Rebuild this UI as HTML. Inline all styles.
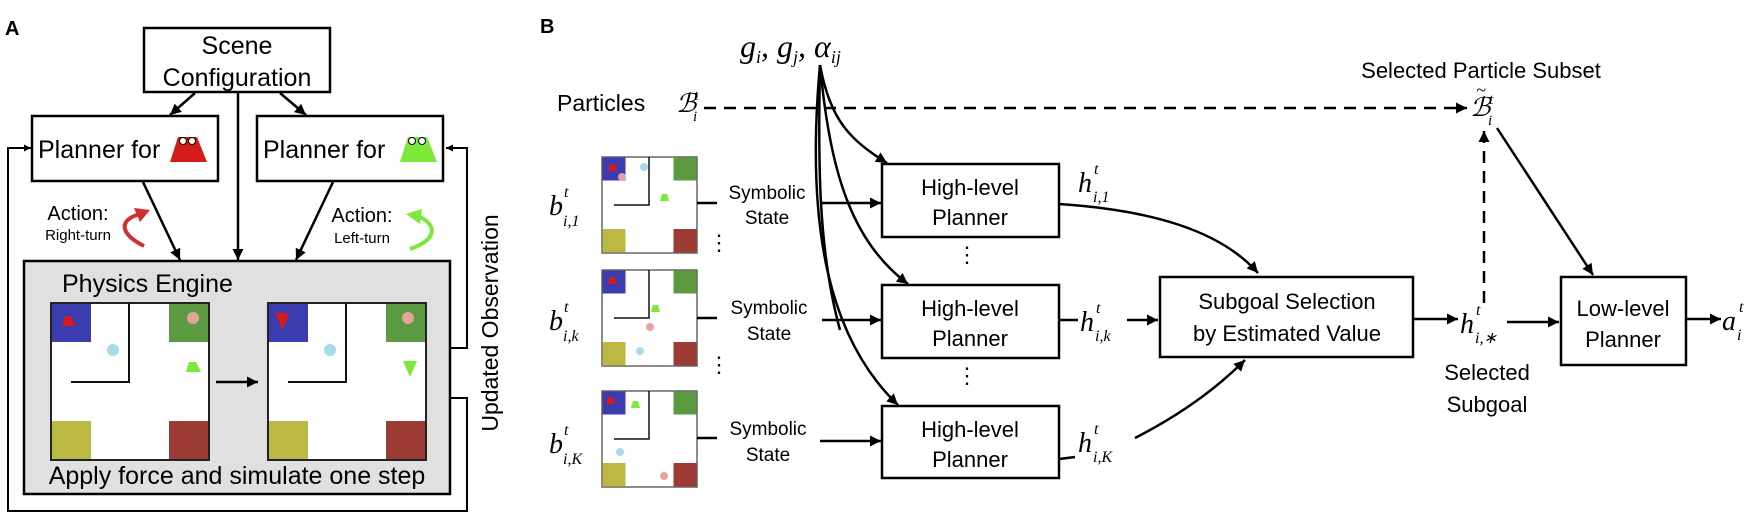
<!DOCTYPE html>
<html><head><meta charset="utf-8"><style>
html,body{margin:0;padding:0;background:#fff;}
svg{display:block;font-family:"Liberation Sans",sans-serif;}
.m{font-family:"Liberation Serif",serif;font-style:italic;}
</style></head><body>
<svg width="1752" height="519" viewBox="0 0 1752 519" xmlns="http://www.w3.org/2000/svg">
<defs>
<marker id="ah" viewBox="0 0 10 10" refX="10" refY="5" markerWidth="7" markerHeight="7" markerUnits="userSpaceOnUse" orient="auto"><path d="M0,0 L10,5 L0,10 z" fill="#000"/></marker>
<marker id="a2" viewBox="0 0 10 10" refX="10" refY="5" markerWidth="13" markerHeight="11" markerUnits="userSpaceOnUse" orient="auto"><path d="M0,0 L10,5 L0,10 z" fill="#000"/></marker>
<g id="thb">
<rect x="0" y="0" width="158" height="157" fill="#fff" stroke="#222" stroke-width="2"/>
<rect x="1" y="1" width="39" height="38" fill="#3a3cb0"/>
<rect x="118" y="1" width="39" height="38" fill="#5b9a40"/>
<rect x="1" y="118" width="39" height="38" fill="#bcb844"/>
<rect x="118" y="118" width="39" height="38" fill="#9c3b33"/>
<path d="M78,0 V79 H20" fill="none" stroke="#111" stroke-width="2"/>
</g>
<g id="ths">
<rect x="0" y="0" width="95" height="96" fill="#fff" stroke="#666" stroke-width="1.5"/>
<rect x="0.5" y="0.5" width="23" height="23" fill="#3a3cb0"/>
<rect x="71.5" y="0.5" width="23" height="23" fill="#5b9a40"/>
<rect x="0.5" y="72" width="23" height="23.5" fill="#bcb844"/>
<rect x="71.5" y="72" width="23" height="23.5" fill="#9c3b33"/>
<path d="M47,0 V48 H12" fill="none" stroke="#111" stroke-width="1.5"/>
</g>
</defs>

<!-- Panel A -->
<text x="5" y="35" font-size="20" font-weight="bold">A</text>
<rect x="144" y="28" width="186" height="64" fill="#fff" stroke="#000" stroke-width="2.5"/>
<text x="237" y="54" font-size="25" text-anchor="middle">Scene</text>
<text x="237" y="86" font-size="25" text-anchor="middle">Configuration</text>

<rect x="32" y="116" width="186" height="65" fill="#fff" stroke="#000" stroke-width="2.5"/>
<text x="38" y="158" font-size="25">Planner for</text>
<polygon points="178,137 197,137 207,162 170,162" fill="#d41a1a"/>
<circle cx="183" cy="141" r="3.5" fill="#fff" stroke="#000"/><circle cx="192" cy="141" r="3.5" fill="#fff" stroke="#000"/>
<rect x="257" y="116" width="186" height="65" fill="#fff" stroke="#000" stroke-width="2.5"/>
<text x="263" y="158" font-size="25">Planner for</text>
<polygon points="408,137 427,137 437,162 400,162" fill="#7be83a"/>
<circle cx="412" cy="141" r="3.5" fill="#fff" stroke="#000"/><circle cx="422" cy="141" r="3.5" fill="#fff" stroke="#000"/>

<g stroke="#000" stroke-width="2.5" fill="none" marker-end="url(#a2)">
<line x1="195" y1="93" x2="170" y2="115"/>
<line x1="280" y1="93" x2="306" y2="115"/>
<line x1="238" y1="93" x2="238" y2="260"/>
<line x1="143" y1="182" x2="180" y2="260"/>
<line x1="333" y1="182" x2="296" y2="260"/>
</g>
<text x="78" y="220" font-size="20" text-anchor="middle">Action:</text>
<text x="78" y="240" font-size="15" text-anchor="middle">Right-turn</text>
<path d="M144,246 C120,234 118,220 140,214" fill="none" stroke="#d03030" stroke-width="4"/>
<polygon points="150,210 134,208 140,222" fill="#d03030"/>
<text x="362" y="222" font-size="20" text-anchor="middle">Action:</text>
<text x="362" y="243" font-size="15" text-anchor="middle">Left-turn</text>
<path d="M410,249 C436,240 438,226 420,217" fill="none" stroke="#7be83a" stroke-width="4"/>
<polygon points="406,214 422,209 420,224" fill="#7be83a"/>

<rect x="24" y="261" width="426" height="233" fill="#e0e0e0" stroke="#000" stroke-width="2.5"/>
<text x="62" y="292" font-size="25">Physics Engine</text>
<use href="#thb" x="51" y="303"/>
<use href="#thb" x="268" y="303"/>
<circle cx="113" cy="350" r="6" fill="#a6dce8"/><circle cx="193" cy="318" r="6" fill="#e4a49c"/>
<polygon points="62,326 65,316 71,316 75,326" fill="#d41a1a"/>
<polygon points="186,372 189,362 196,362 201,372" fill="#7be83a"/>
<circle cx="330" cy="350" r="6" fill="#a6dce8"/><circle cx="408" cy="318" r="6" fill="#e4a49c"/>
<polygon points="275,313 289,313 283,330" fill="#d41a1a"/>
<polygon points="403,361 417,361 410,377" fill="#7be83a"/>
<line x1="216" y1="382" x2="258" y2="382" stroke="#000" stroke-width="2.5" marker-end="url(#a2)"/>
<text x="237" y="484" font-size="25" text-anchor="middle">Apply force and simulate one step</text>

<g stroke="#000" stroke-width="2" fill="none">
<polyline points="450,348 467,348 467,148 446,148" marker-end="url(#ah)"/>
<polyline points="450,398 467,398 467,511 8,511 8,148 31,148" marker-end="url(#ah)"/>
</g>
<text transform="translate(498,323) rotate(-90)" font-size="23" text-anchor="middle">Updated Observation</text>

<!-- Panel B -->
<text x="540" y="33" font-size="20" font-weight="bold">B</text>
<text x="557" y="111" font-size="23">Particles</text>
<text x="676" y="112" class="m" font-size="26">ℬ</text>
<text x="694" y="100" class="m" font-size="15">t</text>
<text x="693" y="121" class="m" font-size="15">i</text>
<line x1="704" y1="108" x2="1467" y2="108" stroke="#000" stroke-width="2.5" stroke-dasharray="12,8" marker-end="url(#a2)"/>
<text x="740" y="57" class="m" font-size="32">g<tspan font-size="18" dy="6">i</tspan><tspan dy="-6">, g</tspan><tspan font-size="18" dy="6">j</tspan><tspan dy="-6">, α</tspan><tspan font-size="18" dy="6">ij</tspan></text>

<use href="#ths" x="602" y="157"/>
<use href="#ths" x="602" y="270"/>
<use href="#ths" x="602" y="391"/>
<g>
<polygon points="608,171 610,164 615,164 617,171" fill="#d41a1a"/><circle cx="622" cy="177" r="4" fill="#e4a49c"/><circle cx="644" cy="167" r="4" fill="#a6dce8"/><polygon points="660,201 662,194 667,194 669,201" fill="#7be83a"/>
<polygon points="608,284 610,277 615,277 617,284" fill="#d41a1a"/><polygon points="651,312 653,305 658,305 660,312" fill="#7be83a"/><circle cx="650" cy="327" r="4" fill="#e4a49c"/><circle cx="640" cy="351" r="4" fill="#a6dce8"/>
<polygon points="606,404 608,397 613,397 615,404" fill="#d41a1a"/><polygon points="631,408 633,401 638,401 640,408" fill="#7be83a"/><circle cx="620" cy="452" r="4" fill="#a6dce8"/><circle cx="664" cy="476" r="4" fill="#e4a49c"/>
</g>

<g class="m" font-size="28">
<text x="549" y="215">b</text><text x="549" y="330">b</text><text x="549" y="453">b</text>
</g>
<g class="m" font-size="16">
<text x="564" y="197">t</text><text x="563" y="226">i,1</text>
<text x="564" y="312">t</text><text x="563" y="341">i,k</text>
<text x="564" y="435">t</text><text x="563" y="464">i,K</text>
</g>

<g stroke="#000" stroke-width="2.5">
<line x1="697" y1="203" x2="717" y2="203"/><line x1="697" y1="318" x2="717" y2="318"/><line x1="697" y1="438" x2="717" y2="438"/>
</g>
<g font-size="19" text-anchor="middle">
<text x="767" y="199">Symbolic</text><text x="767" y="224">State</text>
<text x="769" y="314">Symbolic</text><text x="769" y="340">State</text>
<text x="768" y="435">Symbolic</text><text x="768" y="461">State</text>
</g>
<g font-size="22" text-anchor="middle">
<text x="719" y="250">⋮</text><text x="719" y="372">⋮</text>
<text x="967" y="262">⋮</text><text x="967" y="383">⋮</text>
</g>

<g stroke="#000" stroke-width="2.5" fill="none">
<path d="M820,65 C830,120 850,140 887,163" marker-end="url(#a2)"/>
<path d="M820,65 C830,170 850,240 908,284" marker-end="url(#a2)"/>
<path d="M820,65 C805,230 830,340 898,405" marker-end="url(#a2)"/>
<path d="M820,65 C818,160 818,250 840,330"/>
<line x1="820" y1="203" x2="881" y2="203" marker-end="url(#a2)"/>
<line x1="822" y1="320" x2="881" y2="320" marker-end="url(#a2)"/>
<line x1="820" y1="441" x2="881" y2="441" marker-end="url(#a2)"/>
</g>

<g fill="#fff" stroke="#000" stroke-width="2.5">
<rect x="882" y="164" width="177" height="73"/>
<rect x="882" y="285" width="177" height="73"/>
<rect x="882" y="406" width="177" height="72"/>
<rect x="1160" y="277" width="253" height="80"/>
<rect x="1561" y="277" width="125" height="88"/>
</g>
<g font-size="22" text-anchor="middle">
<text x="970" y="195">High-level</text><text x="970" y="225">Planner</text>
<text x="970" y="316">High-level</text><text x="970" y="346">Planner</text>
<text x="970" y="437">High-level</text><text x="970" y="467">Planner</text>
<text x="1287" y="309">Subgoal Selection</text><text x="1287" y="341">by Estimated Value</text>
<text x="1623" y="316">Low-level</text><text x="1623" y="347">Planner</text>
<text x="1481" y="78">Selected Particle Subset</text>
<text x="1487" y="380">Selected</text><text x="1487" y="412">Subgoal</text>
</g>

<g class="m">
<text x="1078" y="192" font-size="28">h</text><text x="1094" y="174" font-size="16">t</text><text x="1093" y="202" font-size="16">i,1</text>
<text x="1080" y="331" font-size="28">h</text><text x="1096" y="313" font-size="16">t</text><text x="1095" y="341" font-size="16">i,k</text>
<text x="1078" y="452" font-size="28">h</text><text x="1094" y="434" font-size="16">t</text><text x="1093" y="462" font-size="16">i,K</text>
<text x="1460" y="333" font-size="28">h</text><text x="1476" y="315" font-size="16">t</text><text x="1475" y="343" font-size="16">i,∗</text>
<text x="1722" y="330" font-size="28">a</text><text x="1739" y="312" font-size="16">t</text><text x="1737" y="340" font-size="16">i</text>
<text x="1470" y="116" font-size="26">ℬ</text><text x="1476" y="96" font-size="18">~</text><text x="1489" y="104" font-size="15">t</text><text x="1488" y="125" font-size="15">i</text>
</g>

<g stroke="#000" stroke-width="2.5" fill="none">
<path d="M1059,204 C1150,210 1220,230 1258,273" marker-end="url(#a2)"/>
<line x1="1059" y1="320" x2="1078" y2="320"/>
<line x1="1127" y1="320" x2="1158" y2="320" marker-end="url(#a2)"/>
<path d="M1059,459 L1075,457"/>
<path d="M1135,438 C1180,415 1215,390 1245,360" marker-end="url(#a2)"/>
<line x1="1413" y1="319" x2="1458" y2="319" marker-end="url(#a2)"/>
<line x1="1507" y1="322" x2="1559" y2="322" marker-end="url(#a2)"/>
<line x1="1686" y1="319" x2="1721" y2="319" marker-end="url(#a2)"/>
<line x1="1497" y1="128" x2="1593" y2="275" marker-end="url(#a2)"/>
<line x1="1484" y1="303" x2="1484" y2="131" stroke-dasharray="12,8" marker-end="url(#a2)"/>
</g>
</svg>
</body></html>
